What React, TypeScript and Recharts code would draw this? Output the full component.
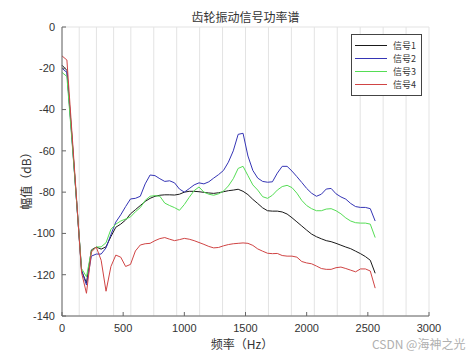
import { LineChart, Line, XAxis, YAxis, CartesianGrid } from 'recharts';

// 频率轴 (Hz)
const freq = [
  0, 40, 80, 120, 160, 200, 240, 280, 320, 360, 400, 440, 480, 520, 560, 600,
  640, 680, 720, 760, 800, 840, 880, 920, 960, 1000, 1040, 1080, 1120, 1160, 1200,
  1240, 1280, 1320, 1360, 1400, 1440, 1480, 1520, 1560, 1600, 1640, 1680, 1720,
  1760, 1800, 1840, 1880, 1920, 1960, 2000, 2040, 2080, 2120, 2160, 2200, 2240,
  2280, 2320, 2360, 2400, 2440, 2480, 2520, 2560,
];

const sig1 = [
  -18.5, -21, -52, -85, -118, -124, -108, -106.6, -107.6, -106.5, -101.5, -97, -95.5,
  -93.5, -90.5, -88.5, -86.5, -84.5, -83, -82, -81.5, -81.3, -81.3, -81.4, -81, -80,
  -79.6, -79.6, -79.8, -80.1, -80.4, -80.6, -80.3, -79.8, -79.3, -79, -78.6, -79.6,
  -81.2, -83.5, -85.5, -87.6, -89, -89.2, -89.2, -89.6, -90.6, -92.4, -94.4, -96.4,
  -98.4, -100.3, -101.6, -102.6, -103.5, -104, -104.8, -105.7, -106.6, -107.4, -108.6,
  -109.8, -111.2, -113, -119.3,
];

const sig2 = [
  -20, -22, -53, -85, -118, -125, -111, -110, -110, -107, -100.5, -94.5, -91, -87,
  -83.3, -83, -82, -76, -71.7, -72, -73.5, -74.8, -74.5, -75.5, -78.5, -80, -78.3,
  -76.5, -75.5, -76, -75, -73.2, -71.5, -69.5, -65.5, -60, -52, -51.5, -62.5, -69.5,
  -73.2, -74.8, -75.2, -75, -70.8, -67.5, -67.5, -69.8, -72.5, -75.3, -78.2, -80.5,
  -82, -81, -78.5, -78.2, -80.8, -82.3, -83.4, -85.5, -87, -87.4, -87.4, -88, -94,
];

const sig3 = [
  -22, -24, -54, -85, -117, -121, -108.5, -106.6, -106.5, -104.5, -98, -95.5, -94, -93,
  -92, -89.5, -87.5, -84, -82, -81.7, -82, -85.3, -86.5, -87.5, -88.8, -86, -82.5,
  -79.3, -77.5, -80, -81, -81.5, -80.8, -79.5, -77, -73.5, -68.5, -67.5, -72, -76.5,
  -79, -82.2, -83, -81.5, -79, -77.3, -76.7, -77.8, -80.5, -84, -86.5, -88, -89, -89,
  -88.2, -88, -89, -90.5, -92.5, -94, -94.8, -95, -95, -95.5, -102,
];

const sig4 = [
  -14, -16, -50, -84, -119, -129, -109, -106.6, -113, -128, -116, -110.5, -111.5, -116,
  -115, -108.5, -105.6, -105, -104.8, -103.5, -102.5, -102, -102.8, -103.5, -103,
  -102.4, -102.8, -103.5, -104.4, -105.3, -106.3, -107, -106.8, -106, -105.4, -105,
  -104.8, -104.6, -104.8, -105.8, -107.5, -108.6, -109.6, -109.8, -109.7, -110.7, -111,
  -111, -111.5, -113.6, -114.3, -114.7, -115.8, -117, -117.4, -117.4, -116.6, -116.3,
  -117, -117.8, -118.6, -117.2, -117.2, -118.2, -126.5,
];

const xTicks = [0, 500, 1000, 1500, 2000, 2500, 3000];
const yTicks = [-140, -120, -100, -80, -60, -40, -20, 0];

const seriesNames = ['信号1', '信号2', '信号3', '信号4'];
const seriesColors = ['#1a1a1a', '#3535b5', '#55dd55', '#d04444'];

const rows = freq.map((f, i) => ({ f, s1: sig1[i], s2: sig2[i], s3: sig3[i], s4: sig4[i] }));

const cjk = '"Noto Sans CJK SC", sans-serif';
const num = '"Liberation Sans", Arial, sans-serif';
const axisColor = '#666';
const tickStyle = { fontSize: 11, fill: '#333', fontFamily: num };

export default function App() {
  return (
    <div style={{ position: 'absolute', left: 0, top: 0, width: 474, height: 355, background: '#fff' }}>
      <LineChart width={474} height={355} data={rows} margin={{ top: 27, right: 45, bottom: 0, left: 0 }}>
        <CartesianGrid stroke="#e3e3e3" vertical horizontal />
        <XAxis
          xAxisId="b"
          dataKey="f"
          type="number"
          domain={[0, 3000]}
          ticks={xTicks}
          height={39}
          stroke={axisColor}
          tickSize={-4}
          tickMargin={12}
          tick={tickStyle}
          interval={0}
        />
        <XAxis
          xAxisId="t"
          orientation="top"
          dataKey="f"
          type="number"
          domain={[0, 3000]}
          ticks={xTicks}
          height={0}
          stroke={axisColor}
          tickSize={-4}
          tick={false}
        />
        <YAxis
          yAxisId="l"
          type="number"
          domain={[-140, 0]}
          ticks={yTicks}
          width={62}
          stroke={axisColor}
          tickSize={-4}
          tickMargin={11}
          tick={tickStyle}
          interval={0}
        />
        <YAxis
          yAxisId="r"
          orientation="right"
          type="number"
          domain={[-140, 0]}
          ticks={yTicks}
          width={0}
          stroke={axisColor}
          tickSize={-4}
          tick={false}
        />
        {['s1', 's2', 's3', 's4'].map((k, i) => (
          <Line
            key={k}
            xAxisId="b"
            yAxisId="l"
            dataKey={k}
            name={seriesNames[i]}
            stroke={seriesColors[i]}
            strokeWidth={1}
            dot={false}
            type="linear"
            isAnimationActive={false}
          />
        ))}
      </LineChart>

      {/* 图例 */}
      <div
        style={{
          position: 'absolute',
          left: 351,
          top: 34,
          width: 71,
          height: 62,
          boxSizing: 'border-box',
          border: '1px solid #444',
          background: '#fff',
          paddingTop: 4,
          fontFamily: cjk,
          fontSize: 9,
          color: '#333',
        }}
      >
        {seriesNames.map((n, i) => (
          <div key={n} style={{ display: 'flex', alignItems: 'center', height: 13, whiteSpace: 'nowrap' }}>
            <div style={{ width: 32, height: 1, background: seriesColors[i], marginLeft: 3, marginRight: 6 }} />
            <span style={{ display: 'block', height: 12, lineHeight: '12px' }}>{n}</span>
          </div>
        ))}
      </div>

      <div style={{ position: 'absolute', left: 0, width: 491, top: 8, textAlign: 'center', fontFamily: cjk, fontSize: 12, color: '#333' }}>
        齿轮振动信号功率谱
      </div>
      <div style={{ position: 'absolute', left: 0, width: 484, top: 335, textAlign: 'center', fontFamily: cjk, fontSize: 12, color: '#333' }}>
        频率（Hz）
      </div>
      <div
        style={{
          position: 'absolute',
          left: 25,
          top: 178,
          transform: 'translate(-50%, -50%) rotate(-90deg)',
          whiteSpace: 'nowrap',
          fontFamily: cjk,
          fontSize: 12,
          color: '#333',
        }}
      >
        幅值（dB）
      </div>
      <div style={{ position: 'absolute', left: 372, top: 335, fontFamily: cjk, fontSize: 12, color: '#b0b0b0', whiteSpace: 'nowrap' }}>
        CSDN @海神之光
      </div>
    </div>
  );
}
